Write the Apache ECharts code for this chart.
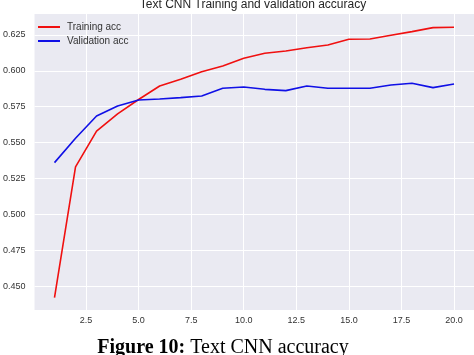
<!DOCTYPE html>
<html><head><meta charset="utf-8">
<script src="https://cdn.jsdelivr.net/npm/echarts@6/dist/echarts.min.js"></script>
<style>html,body{margin:0;padding:0;background:#fff}#c{width:474px;height:355px}</style>
</head><body><div id="c"></div>
<script>
const epochs = [1,2,3,4,5,6,7,8,9,10,11,12,13,14,15,16,17,18,19,20];
const trainingAcc = [0.442,0.533,0.558,0.570,0.580,0.5894,0.5941,0.5994,0.6034,0.6087,0.6122,0.6138,0.6161,0.6180,0.6220,0.6222,0.6248,0.6273,0.6301,0.6304];
const validationAcc = [0.536,0.553,0.5685,0.5755,0.5797,0.5804,0.5813,0.5825,0.5878,0.5887,0.5871,0.5862,0.5894,0.5878,0.5878,0.5878,0.5901,0.5913,0.5883,0.5908];
const xTicks = [2.5,5.0,7.5,10.0,12.5,15.0,17.5,20.0];
const yTicks = [0.450,0.475,0.500,0.525,0.550,0.575,0.600,0.625];
const seriesNames = ['Training acc','Validation acc'];
const titleText = 'Text CNN Training and validation accuracy';

const chart = echarts.init(document.getElementById('c'), null, {renderer:'canvas'});
chart.setOption({
  animation:false,
  backgroundColor:'#ffffff',
  title:[
    {text:titleText, left:248, top:-6, textAlign:'center',
     textStyle:{fontFamily:'Liberation Sans', fontSize:12, fontWeight:'normal', color:'#262626'}},
    {text:'{b|Figure 10:} {n|Text CNN accuracy}', left:218, top:333, textAlign:'center',
     textStyle:{rich:{
       b:{fontFamily:'Liberation Serif', fontSize:20, fontWeight:'bold', color:'#000'},
       n:{fontFamily:'Liberation Serif', fontSize:20, fontWeight:'normal', color:'#000'}}}}
  ],
  legend:{
    left:33, top:17, orient:'vertical', itemGap:4, itemWidth:22, itemHeight:2,
    icon:'rect',
    textStyle:{fontFamily:'Liberation Sans', fontSize:10, color:'#333', padding:[0,0,0,2]},
    data:seriesNames
  },
  grid:{left:32, right:-1, top:14, bottom:45, show:true, backgroundColor:'#eaeaf2', borderWidth:0},
  xAxis:{
    type:'value', min:0.05, max:20.95,
    axisLine:{show:false},
    axisTick:{show:false, customValues:xTicks},
    axisLabel:{customValues:xTicks, fontFamily:'Liberation Sans', fontSize:9, color:'#333', margin:6,
      formatter:v=>v.toFixed(1)},
    splitLine:{show:true, lineStyle:{color:'#ffffff', width:1}}
  },
  yAxis:{
    type:'value', min:0.4333, max:0.6396,
    axisLine:{show:false},
    axisTick:{show:false, customValues:yTicks},
    axisLabel:{customValues:yTicks, fontFamily:'Liberation Sans', fontSize:9, color:'#333', margin:9,
      formatter:v=>v.toFixed(3)},
    splitLine:{show:true, lineStyle:{color:'#ffffff', width:1}}
  },
  series:[
    {name:seriesNames[0], type:'line', data:epochs.map((e,i)=>[e,trainingAcc[i]]),
     showSymbol:false, symbol:'none', lineStyle:{color:'#f01010', width:1.6}, itemStyle:{color:'#f01010'}},
    {name:seriesNames[1], type:'line', data:epochs.map((e,i)=>[e,validationAcc[i]]),
     showSymbol:false, symbol:'none', lineStyle:{color:'#1010e6', width:1.6}, itemStyle:{color:'#1010e6'}}
  ]
});
</script></body></html>
